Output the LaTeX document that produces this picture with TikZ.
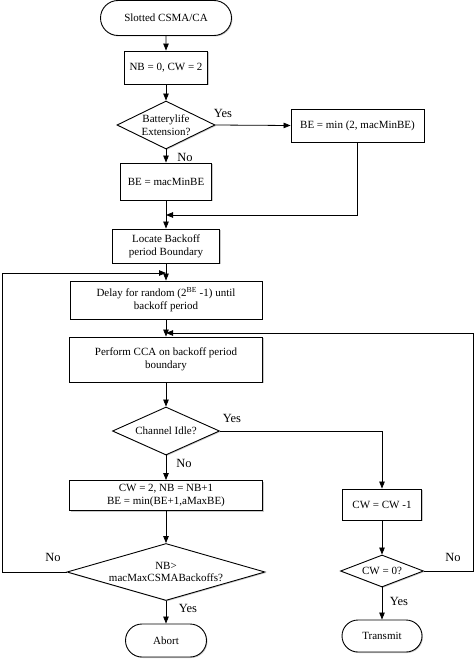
\documentclass[tikz,border=0pt]{standalone}
\usepackage{fontspec}
\setmainfont{Liberation Serif}
\usetikzlibrary{shapes.geometric,shapes.misc,arrows.meta,shadows}
\begin{document}
\begin{tikzpicture}[x=1pt,y=-1pt,
  base/.style={draw=black,line width=0.9pt,fill=white,align=center,inner sep=1pt,
    font=\fontsize{11}{12.8}\selectfont,
    drop shadow={shadow xshift=1pt,shadow yshift=-1pt,fill=black!35,opacity=0.6}},
  procbox/.style={base,rectangle},
  termbox/.style={base,rounded rectangle},
  decbox/.style={base,diamond,inner sep=0pt},
  dectext/.style={align=center,inner sep=0pt,font=\fontsize{11}{12.8}\selectfont},
  lbl/.style={font=\fontsize{12.5}{14}\selectfont},
  conn/.style={line width=0.8pt},
  arr/.style={conn,-{Triangle[length=7pt,width=5.5pt]}}]
\useasboundingbox (0,0) rectangle (474,661);
% nodes
\node[termbox,minimum width=133pt,minimum height=35pt] (start) at (166,18) {Slotted CSMA/CA};
\node[procbox,minimum width=83pt,minimum height=33pt] (nb) at (166,67.5) {NB = 0, CW = 2};
\node[decbox,minimum width=98pt,minimum height=48pt] (bat) at (166,125) {};
\node[dectext] (batt) at (bat.center) {Batterylife\\Extension?};
\node[procbox,minimum width=133pt,minimum height=33pt] (bemin) at (357.5,125.5) {BE = min (2, macMinBE)};
\node[procbox,minimum width=91pt,minimum height=37pt] (bemac) at (166,181.5) {BE = macMinBE};
\node[procbox,minimum width=107pt,minimum height=34pt] (locate) at (166,246) {Locate Backoff\\period Boundary};
\node[procbox,minimum width=192pt,minimum height=38pt] (delay) at (166,300) {Delay for random (2\textsuperscript{BE} -1) until\\backoff period};
\node[procbox,minimum width=193pt,minimum height=45pt] (perform) at (166,359.5) {Perform CCA on backoff period\\boundary};
\node[decbox,minimum width=107pt,minimum height=48pt] (idle) at (166,431) {};
\node[dectext] (idlet) at (idle.center) {Channel Idle?};
\node[procbox,minimum width=193pt,minimum height=30pt] (cw2) at (166,495.5) {CW = 2, NB = NB+1\\BE = min(BE+1,aMaxBE)};
\node[decbox,minimum width=198pt,minimum height=57pt] (nbd) at (166,572) {};
\node[dectext] (nbdt) at (nbd.center) {NB>\\macMaxCSMABackoffs?};
\node[termbox,minimum width=83pt,minimum height=33pt] (abort) at (166,640.5) {Abort};
\node[procbox,minimum width=79pt,minimum height=31pt] (cwm1) at (382,504.5) {CW = CW -1};
\node[decbox,minimum width=83pt,minimum height=32pt] (cw0) at (382,571) {};
\node[dectext] (cw0t) at (cw0.center) {CW = 0?};
\node[termbox,minimum width=82pt,minimum height=32pt] (transmit) at (382,636) {Transmit};
% junction coordinates
\coordinate (j1) at (166,215);
\coordinate (j2) at (166,273);
\coordinate (j3) at (166,333);
\coordinate (lft) at (2,0);
\coordinate (rgt) at (473,0);
% connectors
\draw[arr] (start) -- (nb);
\draw[arr] (nb) -- (bat);
\draw[arr] (bat.east) -- (bemin.west);
\draw[arr] (bat.south) -- (bemac.north);
\draw[arr] (bemin.south) |- (j1);
\draw[arr] (bemac.south) -- (locate.north);
\draw[arr] (locate.south) -- (delay.north);
\draw[arr] (nbd.west) -- (lft |- nbd.west) -- (lft |- j2) -- (j2);
\draw[arr] (delay.south) -- (perform.north);
\draw[arr] (cw0.east) -- (rgt |- cw0.east) -- (rgt |- j3) -- (j3);
\draw[arr] (perform.south) -- (idle.north);
\draw[arr] (idle.east) -| (cwm1.north);
\draw[arr] (idle.south) -- (cw2.north);
\draw[arr] (cw2.south) -- (nbd.north);
\draw[arr] (nbd.south) -- (abort.north);
\draw[arr] (cwm1.south) -- (cw0.north);
\draw[arr] (cw0.south) -- (transmit.north);
% labels
\node[lbl] (y1) at (223,113) {Yes};
\node[lbl] (n1) at (185,157) {No};
\node[lbl] (y2) at (232,418) {Yes};
\node[lbl] (n2) at (184,463) {No};
\node[lbl] (n3) at (53,557) {No};
\node[lbl] (y3) at (188,608) {Yes};
\node[lbl] (n4) at (453,557) {No};
\node[lbl] (y4) at (399,601) {Yes};
\end{tikzpicture}
\end{document}
